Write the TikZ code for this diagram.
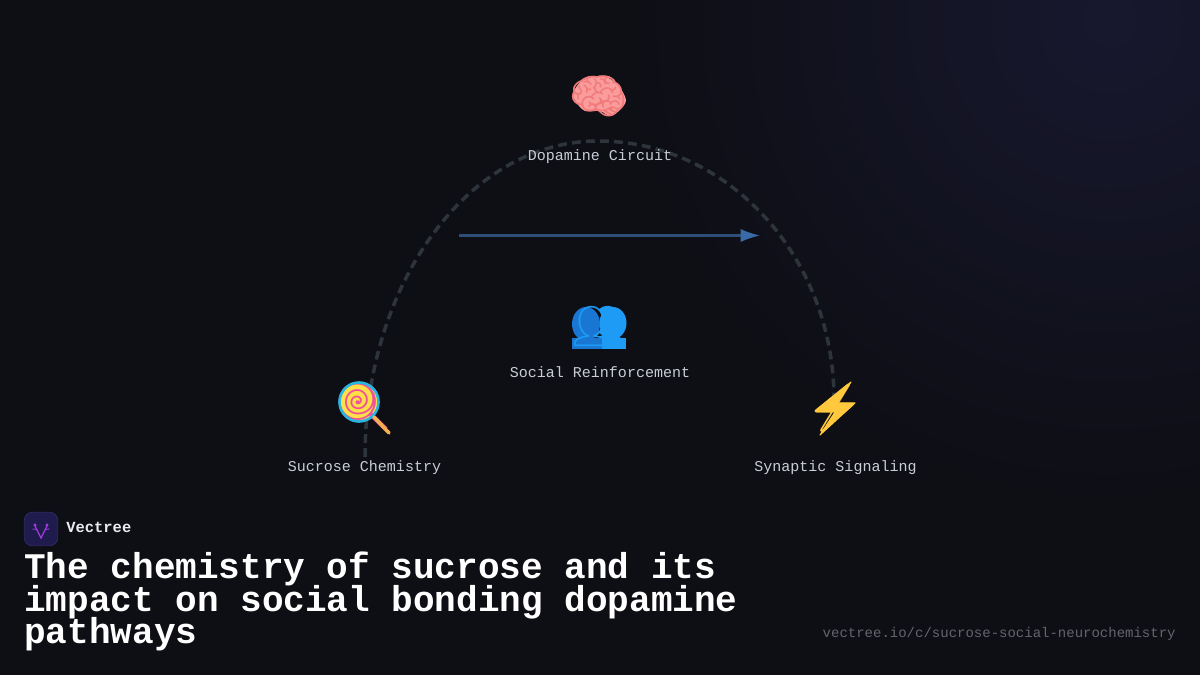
\documentclass[tikz,border=0pt]{standalone}
\usepackage{fontspec}
\setmonofont{Liberation Mono}
\newfontfamily\emojifont{Noto Emoji}
\usetikzlibrary{arrows.meta}

\definecolor{bgbase}{HTML}{0E0E15}
\definecolor{bgglow}{HTML}{17182E}
\definecolor{arcgray}{HTML}{2D343B}
\definecolor{arrowblue}{HTML}{2E4E78}
\definecolor{arrowhead}{HTML}{3A6BA8}
\definecolor{labelgray}{HTML}{C9CED6}
\definecolor{urlgray}{HTML}{63666C}
\definecolor{logofill}{HTML}{1F1B4D}
\definecolor{logoedge}{HTML}{2D2A63}
\definecolor{logomark}{HTML}{A23BDC}
\definecolor{brainpink}{HTML}{FA9C9C}
\definecolor{brainfold}{HTML}{F17B7B}
\definecolor{peopledark}{HTML}{1976D2}
\definecolor{peoplelight}{HTML}{1E9BF5}
\definecolor{candycyan}{HTML}{2AB5E0}
\definecolor{candypink}{HTML}{F0509A}
\definecolor{candyyellow}{HTML}{FDE047}
\definecolor{stickorange}{HTML}{F0B050}
\definecolor{boltyellow}{HTML}{FFC83D}

\tikzset{
    steplabel/.style={font=\fontsize{8.54}{10}\ttfamily, text=labelgray, inner sep=0pt, anchor=base},
    emojiglyph/.style={font=\emojifont\fontsize{27}{30}\selectfont, inner sep=0pt},
}

\begin{document}
\begin{tikzpicture}[x=0.02cm, y=-0.02cm, line cap=butt]
    \useasboundingbox (0,0) rectangle (1200,675);

    % Background
    \fill[bgbase] (0,0) rectangle (1200,675);
    \begin{scope}
        \clip (0,0) rectangle (1200,675);
        \shade[inner color=bgglow, outer color=bgbase] (1110,20) circle (480);
    \end{scope}

    % Define the points of the arc and the arrow
    \coordinate (ArcStart) at (365,457);
    \coordinate (ArcTop) at (598,141);
    \coordinate (ArcEnd) at (834,400);
    \coordinate (ArrowStart) at (459,235.5);
    \coordinate (ArrowEnd) at (760,235.5);

    % Dashed arc and arrow
    \draw[arcgray, line width=2pt, dash pattern=on 5pt off 3pt]
        (ArcStart) .. controls (365,283) and (469,141) .. (ArcTop)
        .. controls (728,141) and (834,257) .. (ArcEnd);
    \draw[arrowblue, line width=1.2pt, -{Latex[length=11pt, width=7.5pt, color=arrowhead]}] (ArrowStart) -- (ArrowEnd);

    % Brain
    \fill[brainpink] plot[smooth cycle] coordinates {(573,93) (583,80) (603,76) (618,85) (626,100) (620,110) (610,116) (600,111) (585,111) (576,102)};
    \node[emojiglyph, text=brainfold] (BrainIcon) at (599,96) {🧠};

    % People
    \fill[peoplelight] (613,323) ellipse (13.5 and 16);
    \fill[peoplelight] (598,338) rectangle (626,349);
    \fill[peopledark] (586,324) ellipse (14 and 17);
    \fill[peopledark] (572,338) rectangle (602,349);
    \node[emojiglyph, font=\emojifont\fontsize{25}{28}\selectfont, text=peoplelight] (PeopleIcon) at (599.5,326) {👥};

    % Lollipop
    \fill[candyyellow] (359,402) circle (19.5);
    \node[emojiglyph, text=candypink] (LollipopIcon) at (364,407) {🍭};
    \draw[candycyan, line width=1.5pt] (359,402) circle (19.5);
    \draw[stickorange, line width=2pt, line cap=round] (374,417) -- (389,433);

    % Bolt
    \filldraw[boltyellow, line width=0.6pt, line join=round] (851,382) -- (815,411) -- (835,412) -- (820,435) -- (855,403) -- (837,403) -- cycle;
    \node[emojiglyph, text=boltyellow] (BoltIcon) at (835,408) {⚡};

    % Place the labels
    \node[steplabel] (BrainLabel) at (600,161) {Dopamine Circuit};
    \node[steplabel] (PeopleLabel) at (600,377.6) {Social Reinforcement};
    \node[steplabel] (LollipopLabel) at (364.5,471) {Sucrose Chemistry};
    \node[steplabel] (BoltLabel) at (835.5,471) {Synaptic Signaling};

    % Logo
    \node[draw=logoedge, fill=logofill, rounded corners=4.5pt, minimum size=19pt, inner sep=0pt, line width=0.5pt] (LogoBox) at (41,529) {};
    \coordinate (MarkBase) at (41,538);
    \draw[logomark, line width=0.7pt] (35,526) -- (MarkBase) -- (47,526);
    \draw[logomark, line width=0.5pt] (32.5,529) -- (37,529.5) (49.5,529) -- (45,529.5);
    \fill[logomark] (35,525) circle (1.7) (47,525) circle (1.7);
    \node[font=\fontsize{8.8}{11}\ttfamily\bfseries, text=labelgray!40!white, anchor=base west, inner sep=0pt] (BrandName) at (66,532) {Vectree};

    % Title and url
    \node[font=\fontsize{20.5}{18.45}\ttfamily\bfseries\setlength{\lineskiplimit}{-10pt}, text=white, anchor=north west, inner sep=0pt, align=left] (TitleText) at (24,552) {The chemistry of sucrose and its\\impact on social bonding dopamine\\pathways};
    \node[font=\fontsize{7.97}{10}\ttfamily, text=urlgray, anchor=base east, inner sep=0pt] (SourceUrl) at (1176,637) {vectree.io/c/sucrose-social-neurochemistry};
\end{tikzpicture}
\end{document}
